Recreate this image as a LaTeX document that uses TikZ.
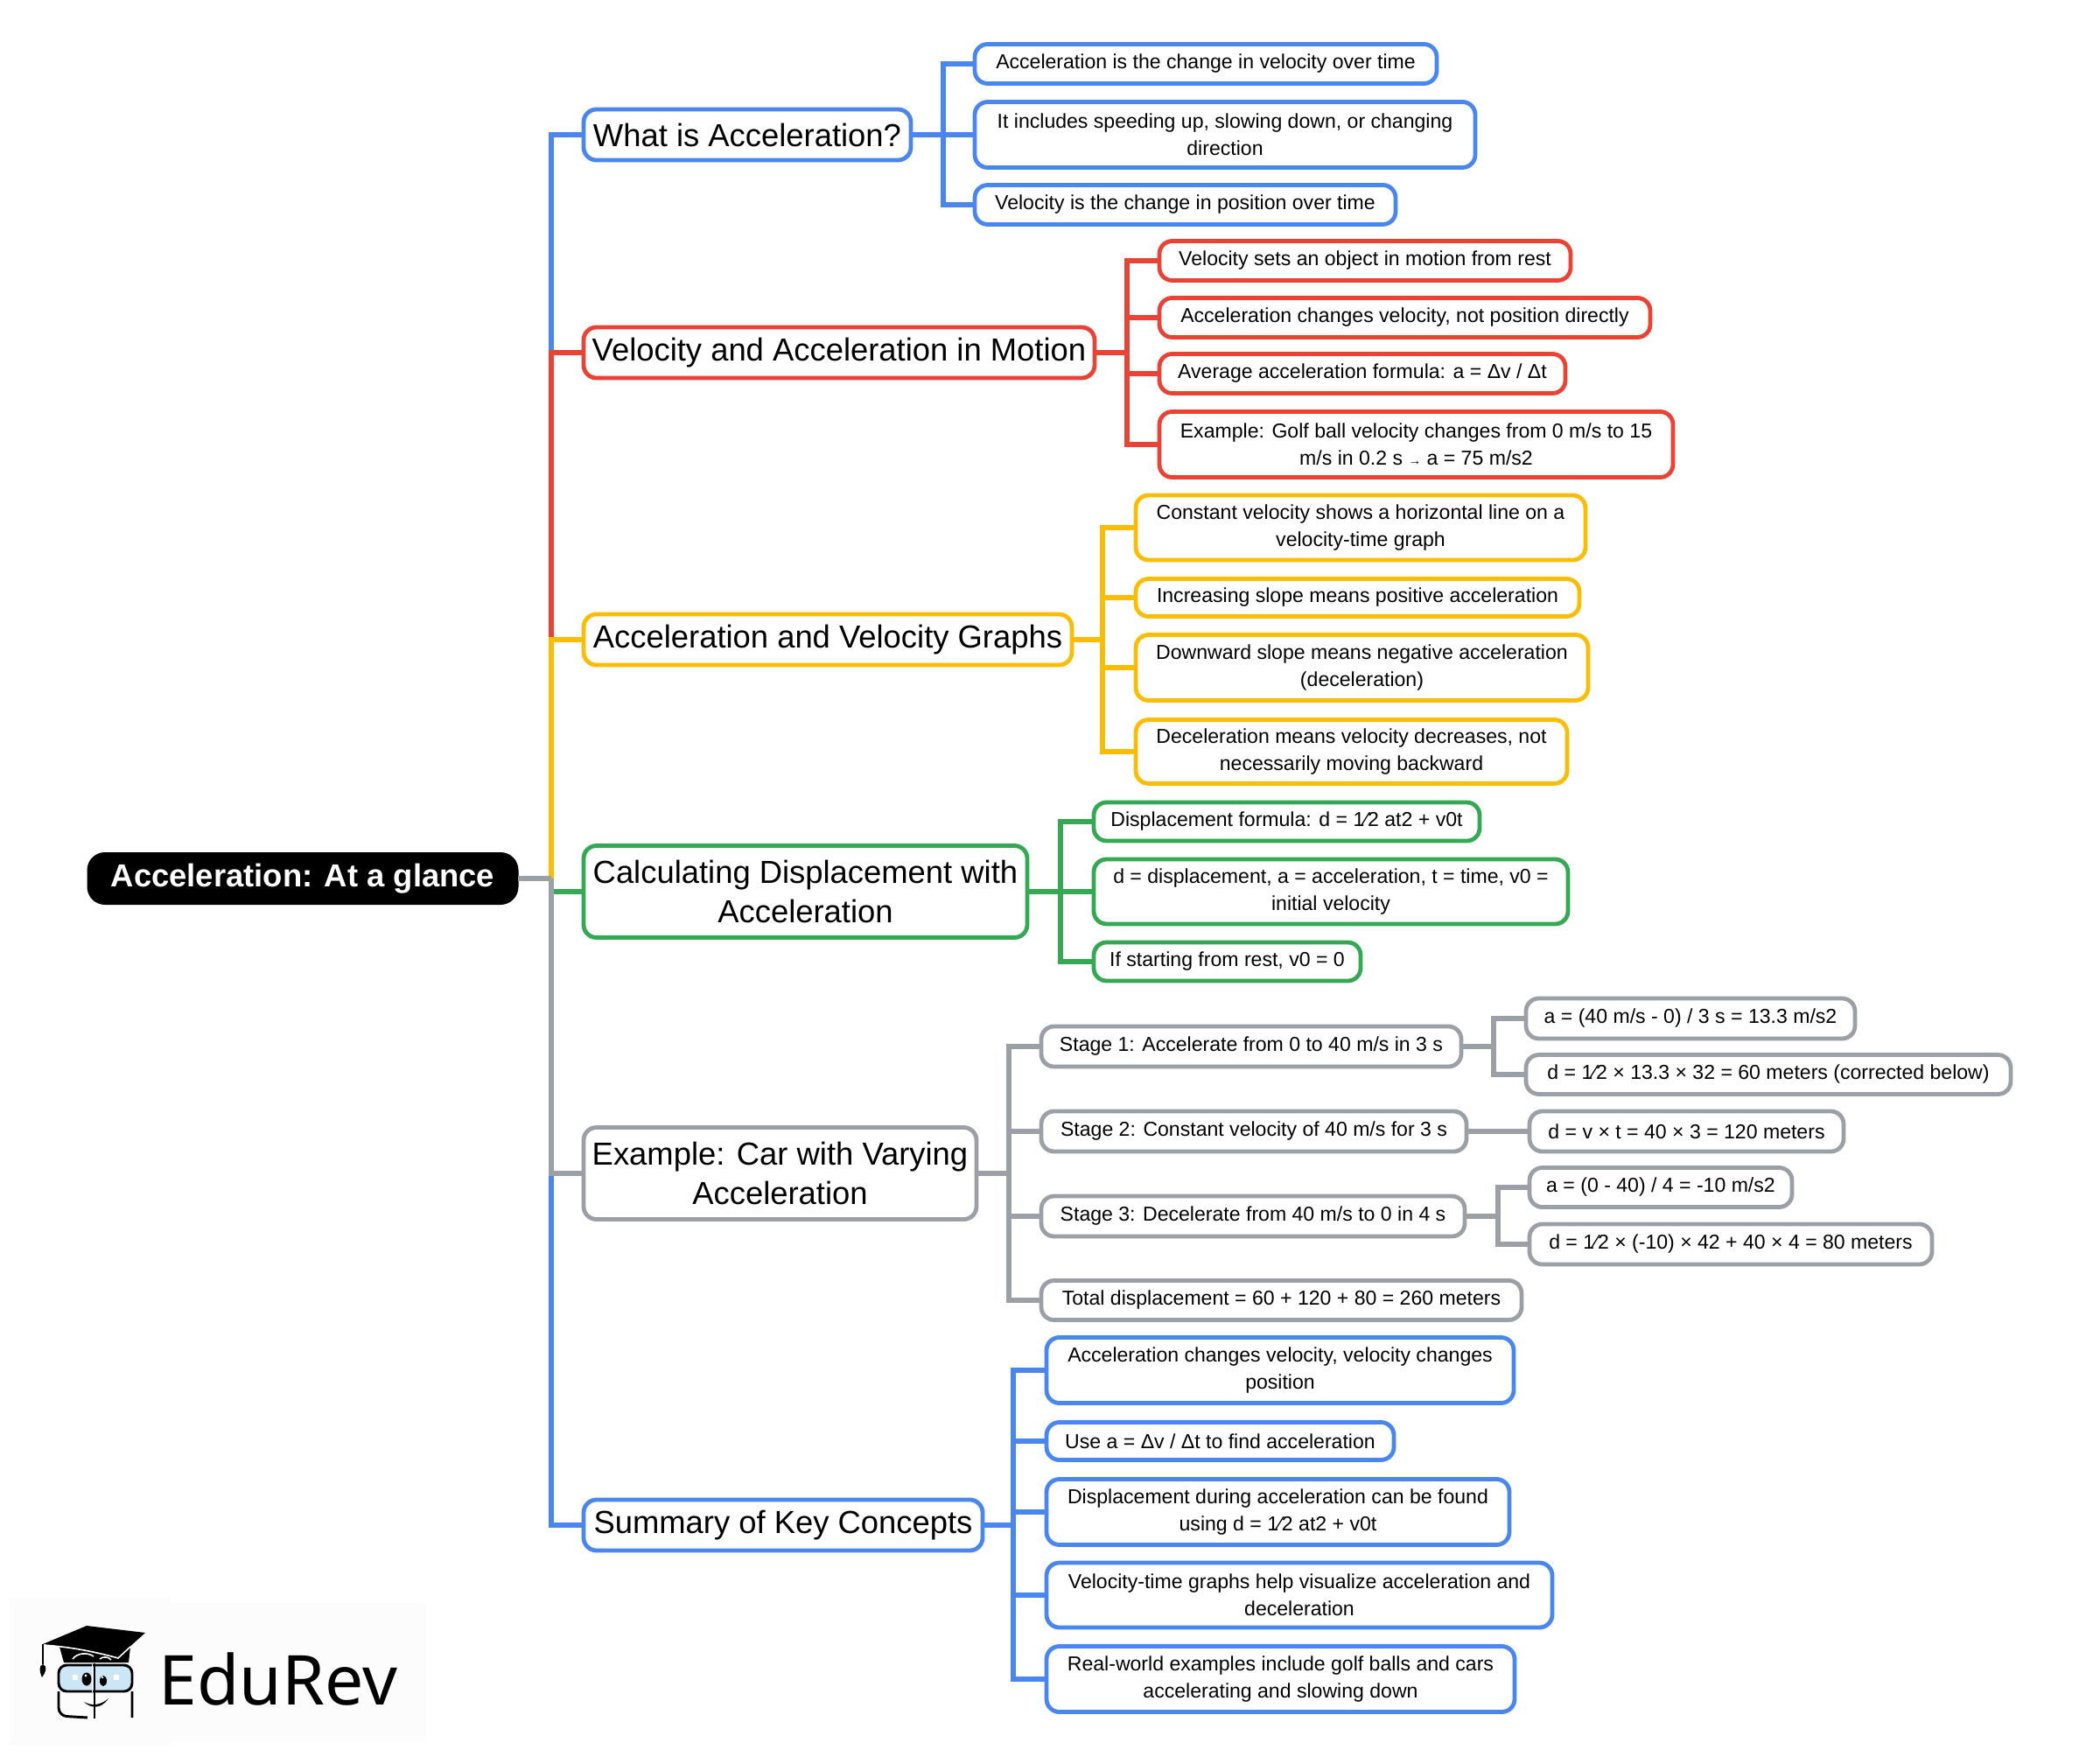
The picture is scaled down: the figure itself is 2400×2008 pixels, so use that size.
\documentclass[tikz,border=0pt]{standalone}
\usepackage{fontspec}
\setmainfont{Liberation Sans}
\newfontfamily\logofont{Noto Sans}
\definecolor{mmblue}{RGB}{74,134,240}
\definecolor{mmred}{RGB}{234,67,53}
\definecolor{mmyellow}{RGB}{251,188,4}
\definecolor{mmgreen}{RGB}{52,168,83}
\definecolor{mmgray}{RGB}{154,160,166}
\definecolor{mmglass}{RGB}{205,230,246}
\tikzset{
  every picture/.style={line width=0.75pt},
  sized/.style 2 args={minimum width=#1*0.75pt,minimum height=#2*0.75pt},
  subbox/.style={draw=#1,fill=white,line width=3.6pt,rounded corners=11pt,anchor=west,align=center,
    inner sep=0pt,outer sep=0pt,font=\fontsize{17.3}{23.6}\selectfont},
  topicbox/.style={subbox=#1,font=\fontsize{27.3}{34.4}\selectfont},
  rootbox/.style={draw=black,fill=black,text=white,rounded corners=15pt,anchor=west,inner sep=0pt,outer sep=0pt,
    font=\fontsize{27.3}{34.4}\selectfont\bfseries},
  link/.style={draw=#1,line width=4.6pt},
}
\begin{document}
\begin{tikzpicture}[x=0.75pt,y=0.75pt,yscale=-1,xscale=1]
\useasboundingbox (0,0) rectangle (2400,2008);

% root and topics
\node (root) [rootbox,sized={492}{59}] at (100,1004) {Acceleration: At a glance};
\node (what) [topicbox=mmblue,sized={374}{58}] at (667,154) {What is Acceleration?};
\node (motion) [topicbox=mmred,sized={584}{58}] at (667,403) {Velocity and Acceleration in Motion};
\node (graphs) [topicbox=mmyellow,sized={558}{58}] at (667,731) {Acceleration and Velocity Graphs};
\node (calc) [topicbox=mmgreen,sized={507}{105}] at (667,1019) {Calculating Displacement with\\Acceleration};
\node (car) [topicbox=mmgray,sized={449}{105}] at (667,1341) {Example: Car with Varying\\Acceleration};
\node (summary) [topicbox=mmblue,sized={456}{58}] at (667,1743) {Summary of Key Concepts};

% what is acceleration
\node (what1) [subbox=mmblue,sized={528}{45}] at (1114,73) {Acceleration is the change in velocity over time};
\node (what2) [subbox=mmblue,sized={572}{75}] at (1114,154) {It includes speeding up, slowing down, or changing\\direction};
\node (what3) [subbox=mmblue,sized={481}{45}] at (1114,234) {Velocity is the change in position over time};

% velocity and acceleration in motion
\node (motion1) [subbox=mmred,sized={470}{45}] at (1325,298) {Velocity sets an object in motion from rest};
\node (motion2) [subbox=mmred,sized={561}{45}] at (1325,363) {Acceleration changes velocity, not position directly};
\node (motion3) [subbox=mmred,sized={464}{45}] at (1325,427) {Average acceleration formula: a = Δv / Δt};
\node (motion4) [subbox=mmred,sized={587}{75}] at (1325,508) {Example: Golf ball velocity changes from 0 m/s to 15\\m/s in 0.2 s {\fontsize{11}{11}\selectfont →} a = 75 m/s2};

% graphs
\node (graphs1) [subbox=mmyellow,sized={514}{74}] at (1298,603) {Constant velocity shows a horizontal line on a\\velocity-time graph};
\node (graphs2) [subbox=mmyellow,sized={507}{43}] at (1298,683) {Increasing slope means positive acceleration};
\node (graphs3) [subbox=mmyellow,sized={517}{75}] at (1298,763) {Downward slope means negative acceleration\\(deceleration)};
\node (graphs4) [subbox=mmyellow,sized={493}{73}] at (1298,859) {Deceleration means velocity decreases, not\\necessarily moving backward};

% displacement
\node (calc1) [subbox=mmgreen,sized={441}{44}] at (1250,939) {Displacement formula: d = 1⁄2 at2 + v0t};
\node (calc2) [subbox=mmgreen,sized={542}{74}] at (1250,1019) {d = displacement, a = acceleration, t = time, v0 =\\initial velocity};
\node (calc3) [subbox=mmgreen,sized={305}{44}] at (1250,1099) {If starting from rest, v0 = 0};

% car example
\node (stage1) [subbox=mmgray,sized={480}{46}] at (1190,1196) {Stage 1: Accelerate from 0 to 40 m/s in 3 s};
\node (stage2) [subbox=mmgray,sized={486}{46}] at (1190,1293) {Stage 2: Constant velocity of 40 m/s for 3 s};
\node (stage3) [subbox=mmgray,sized={484}{46}] at (1190,1390) {Stage 3: Decelerate from 40 m/s to 0 in 4 s};
\node (stage4) [subbox=mmgray,sized={549}{45}] at (1190,1486) {Total displacement = 60 + 120 + 80 = 260 meters};
\node (calc11) [subbox=mmgray,sized={376}{46}] at (1744,1164) {a = (40 m/s - 0) / 3 s = 13.3 m/s2};
\node (calc12) [subbox=mmgray,sized={554}{45}] at (1744,1228) {d = 1⁄2 × 13.3 × 32 = 60 meters (corrected below)};
\node (calc21) [subbox=mmgray,sized={359}{46}] at (1748,1293) {d = v × t = 40 × 3 = 120 meters};
\node (calc31) [subbox=mmgray,sized={300}{45}] at (1748,1357) {a = (0 - 40) / 4 = -10 m/s2};
\node (calc32) [subbox=mmgray,sized={460}{46}] at (1748,1422) {d = 1⁄2 × (-10) × 42 + 40 × 4 = 80 meters};

% summary
\node (key1) [subbox=mmblue,sized={534}{75}] at (1196,1566) {Acceleration changes velocity, velocity changes\\position};
\node (key2) [subbox=mmblue,sized={397}{43}] at (1196,1647) {Use a = Δv / Δt to find acceleration};
\node (key3) [subbox=mmblue,sized={529}{75}] at (1196,1728) {Displacement during acceleration can be found\\using d = 1⁄2 at2 + v0t};
\node (key4) [subbox=mmblue,sized={578}{74}] at (1196,1823) {Velocity-time graphs help visualize acceleration and\\deceleration};
\node (key5) [subbox=mmblue,sized={535}{75}] at (1196,1919) {Real-world examples include golf balls and cars\\accelerating and slowing down};

% trunk, coloured piece by piece
\coordinate (trunkroot) at (630,1004);
\draw [link=mmblue] (what.west) -| (motion.west -| trunkroot);
\draw [link=mmred] (motion.west) -| (graphs.west -| trunkroot);
\draw [link=mmyellow] (graphs.west) -| (trunkroot);
\draw [link=mmgreen] (calc.west) -| (trunkroot);
\draw [link=mmblue] (summary.west) -| (car.west -| trunkroot);
\draw [link=mmgray] (car.west) -| (trunkroot);
\draw [link=mmgray] (root.east) -- (trunkroot);

% branches
\coordinate (whatbar) at (1078,154);
\draw [link=mmblue] (what.east) -- (what2.west);
\draw [link=mmblue] (what1.west) -| (whatbar) |- (what3.west);
\coordinate (motionbar) at (1288,403);
\draw [link=mmred] (motion.east) -- (motionbar);
\draw [link=mmred] (motion1.west) -| (motionbar) |- (motion4.west);
\draw [link=mmred] (motion2.west) -- (motion2.west -| motionbar);
\draw [link=mmred] (motion3.west) -- (motion3.west -| motionbar);
\coordinate (graphsbar) at (1260,731);
\draw [link=mmyellow] (graphs.east) -- (graphsbar);
\draw [link=mmyellow] (graphs1.west) -| (graphsbar) |- (graphs4.west);
\draw [link=mmyellow] (graphs2.west) -- (graphs2.west -| graphsbar);
\draw [link=mmyellow] (graphs3.west) -- (graphs3.west -| graphsbar);
\coordinate (calcbar) at (1212,1019);
\draw [link=mmgreen] (calc.east) -- (calc2.west);
\draw [link=mmgreen] (calc1.west) -| (calcbar) |- (calc3.west);
\coordinate (carbar) at (1153,1341);
\draw [link=mmgray] (car.east) -- (carbar);
\draw [link=mmgray] (stage1.west) -| (carbar) |- (stage4.west);
\draw [link=mmgray] (stage2.west) -- (stage2.west -| carbar);
\draw [link=mmgray] (stage3.west) -- (stage3.west -| carbar);
\coordinate (stage1bar) at (1707,1196);
\draw [link=mmgray] (stage1.east) -- (stage1bar);
\draw [link=mmgray] (calc11.west) -| (stage1bar) |- (calc12.west);
\draw [link=mmgray] (stage2.east) -- (calc21.west);
\coordinate (stage3bar) at (1712,1390);
\draw [link=mmgray] (stage3.east) -- (stage3bar);
\draw [link=mmgray] (calc31.west) -| (stage3bar) |- (calc32.west);
\coordinate (keybar) at (1158,1743);
\draw [link=mmblue] (summary.east) -- (keybar);
\draw [link=mmblue] (key1.west) -| (keybar) |- (key5.west);
\draw [link=mmblue] (key2.west) -- (key2.west -| keybar);
\draw [link=mmblue] (key3.west) -- (key3.west -| keybar);
\draw [link=mmblue] (key4.west) -- (key4.west -| keybar);

% logo
\fill [black!1] (10,1825) rectangle (195,1995);
\fill [black!1] (195,1832) rectangle (487,1990);
\node (logotext) [anchor=west,inner sep=0pt,font=\logofont\fontsize{59}{59}\selectfont\bfseries] at (181,1919) {EduRev};
\fill [black] (68,1882) -- (73,1900) -- (147,1900) -- (149,1882) -- cycle;
\fill [black] (49,1879) -- (99,1858) -- (166,1866) -- (135,1894) -- cycle;
\draw [white,line width=1.2pt] (49,1880) .. controls (80,1882) and (110,1888) .. (135,1895) -- (149,1882);
\draw [white,line width=1.2pt] (83,1896) .. controls (88,1889) and (100,1888) .. (107,1893);
\draw [white,line width=1.2pt] (114,1896) .. controls (117,1893) and (124,1893) .. (127,1897);
\draw [black,line width=1.6pt] (49,1879) -- (49,1902);
\fill [black] (49,1902) .. controls (44,1904) and (45,1910) .. (48,1917) .. controls (52,1912) and (55,1904) .. (49,1902) -- cycle;
\draw [black,fill=mmglass,line width=2.2pt,rounded corners=7pt] (67,1903) rectangle (151,1933);
\draw [black,line width=2.2pt,rounded corners=7pt] (100,1963) -- (67,1961) -- (67,1933) (151,1933) -- (151,1963);
\draw [black,line width=2.2pt] (108,1901) -- (108,1964);
\draw [white,line width=1pt] (105.5,1902) -- (105.5,1934);
\fill [black] (99,1919) ellipse [x radius=5.5,y radius=7.5];
\fill [black] (118,1921) ellipse [x radius=4,y radius=6];
\fill [white] (98,1915) circle (1.6);
\fill [white] (117,1917) circle (1.3);
\fill [white] (83,1914) rectangle (89,1920);
\fill [white] (130,1914) rectangle (136,1920);
\fill [black] (96,1945) .. controls (105,1950) and (115,1949) .. (124,1941) .. controls (116,1953) and (104,1953) .. (96,1945) -- cycle;
\end{tikzpicture}
\end{document}
